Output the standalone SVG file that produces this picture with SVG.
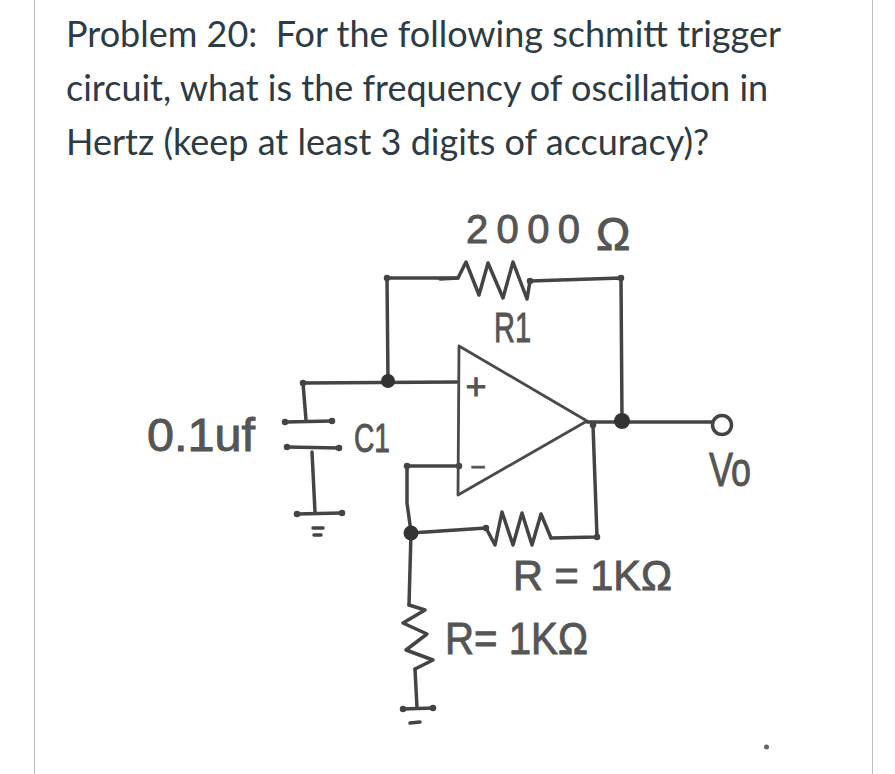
<svg xmlns="http://www.w3.org/2000/svg" width="895" height="774" viewBox="0 0 895 774">
<style>
.q{font-family:Lato,"Liberation Sans",sans-serif;font-size:36px;fill:#2d3b45}
.w{fill:none;stroke:#444;stroke-width:3.500;stroke-linecap:round;stroke-linejoin:round}
.t{stroke:#4a4a4a;stroke-width:2.800}
.h{font-family:"Liberation Sans",sans-serif;fill:#555;stroke:#555;stroke-width:.9}
.d{fill:#333}
.b{fill:none;stroke:#444;stroke-width:6.500;stroke-linecap:round}
.f{fill:none;stroke:#bdbdbd;stroke-width:1}
</style>
<rect width="895" height="774" fill="#fff"/>
<path class="f" d="M34.500 0V774M872.500 0V774"/>
<circle cx="766.500" cy="747" r="2.500" fill="#666"/>
<g id="question">
<text class="q" x="66" y="47" xml:space="preserve">Problem 20:  For the following schmitt trigger</text>
<text class="q" x="66" y="101">circuit, what is the frequency of oscillation in</text>
<text class="q" x="66" y="155">Hertz (keep at least 3 digits of accuracy)?</text>
</g>
<g id="connectors">
<path class="w" d="M458 278L387 278L388 381M303 383L457 382M303 383L306 420M312 452L315 512M459 466L407 466L407 503L411 532"/>
<path class="w" d="M530 281L621 278L622 421M587 422L713 422M593 425L597 537L551 538M411 533L486 528M411 533L409 605M415 669L417 708"/>
<path class="b" d="M387 278h0M303 383h0M407 466h0M621 278h0M530 281h0M597 537h0M486 528h0M593 425h0M459 466h0"/>
</g>
<g id="opamp">
<path class="t" fill="none" stroke-linejoin="round" d="M459 346L587 421L458 495Z"/>
<text class="h" x="476" y="399" font-size="36" text-anchor="middle">+</text>
<text class="h" x="478" y="476" font-size="26" text-anchor="middle">−</text>
</g>
<g id="r1">
<path class="w" d="M440 279L458 278L466 262L479 295L488 263L503 298L513 262L527 299L530 281"/>
<text class="h" x="494" y="342" font-size="42" textLength="37" lengthAdjust="spacingAndGlyphs">R1</text>
<text class="h" x="466" y="243" font-size="40" textLength="114">2000</text><text class="h" x="596" y="250" font-size="46">Ω</text>
</g>
<g id="c1">
<path class="w" d="M285 422L332 421M287 447L339 448"/>
<path class="b" d="M285 422h0M332 421h0M287 447h0M339 448h0"/>
<text class="h" x="147" y="451" font-size="46" textLength="108" lengthAdjust="spacingAndGlyphs">0.1uf</text>
<text class="h" x="354" y="452" font-size="40" textLength="36" lengthAdjust="spacingAndGlyphs">C1</text>
</g>
<g id="ground-c1">
<path class="w" d="M297 514L342 513"/>
<path class="b" d="M297 514h0M342 513h0"/>
<path class="w" d="M313 528L323 528M314 535L321 535"/>
</g>
<g id="r-feedback">
<path class="w" d="M486 528L495 545L502 512L513 545L522 513L532 545L541 514L551 538"/>
<text class="h" x="513" y="590" font-size="42" textLength="159" lengthAdjust="spacingAndGlyphs">R = 1KΩ</text>
</g>
<g id="r-ground">
<path class="w" d="M409 605L425 610L403 623L427 634L406 650L433 660L415 669"/>
<text class="h" x="445" y="654" font-size="44" textLength="143" lengthAdjust="spacingAndGlyphs">R= 1KΩ</text>
</g>
<g id="ground-r">
<path class="w" d="M403 709L433 708"/>
<path class="b" d="M403 709h0M433 708h0"/>
<path class="w" d="M410 723L420 722"/>
</g>
<g id="junctions">
<circle class="d" cx="388" cy="381" r="7"/>
<circle class="d" cx="622" cy="421" r="8"/>
<circle class="d" cx="411" cy="533" r="7.500"/>
</g>
<g id="vo">
<circle cx="722" cy="425" r="9.500" fill="#fff" stroke="#444" stroke-width="3.500"/>
<text class="h" x="709" y="486" font-size="48" textLength="42" lengthAdjust="spacingAndGlyphs">Vo</text>
</g>
</svg>
